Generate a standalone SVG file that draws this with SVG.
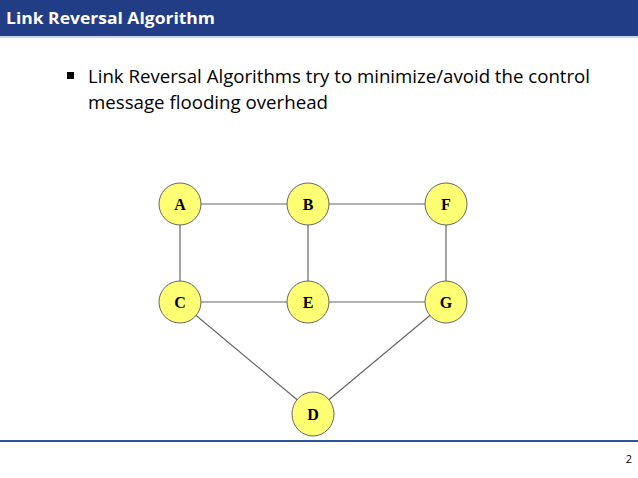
<svg xmlns="http://www.w3.org/2000/svg" width="638" height="478" viewBox="0 0 638 478">
<style>
.n circle,.n ellipse{fill:#ffff73;stroke:#666;stroke-width:1}
.n text{font-family:"Liberation Serif",serif;font-weight:bold;font-size:16px;text-anchor:middle}
#edges line{stroke:#666;stroke-width:1.2}
.t{font-family:"Open Sans","Liberation Sans",sans-serif}
</style>
<rect width="638" height="478" fill="#fff"/>
<rect x="0" y="0" width="638" height="36" fill="#203d85"/>
<rect x="0" y="36" width="638" height="2" fill="#c9d4ea"/>
<text class="t" x="6" y="24" fill="#fff" font-size="16.5" font-weight="bold" textLength="209" lengthAdjust="spacingAndGlyphs">Link Reversal Algorithm</text>
<rect x="67" y="72" width="7" height="7" fill="#000"/>
<text class="t" x="88" y="83" font-size="18.5" textLength="502" lengthAdjust="spacingAndGlyphs">Link Reversal Algorithms try to minimize/avoid the control</text>
<text class="t" x="88" y="109" font-size="18.5" textLength="240" lengthAdjust="spacingAndGlyphs">message flooding overhead</text>
<g id="edges">
<line x1="180" y1="204" x2="308" y2="204"/>
<line x1="308" y1="204" x2="446" y2="204"/>
<line x1="180" y1="204" x2="180" y2="302"/>
<line x1="308" y1="204" x2="308" y2="302"/>
<line x1="446" y1="204" x2="446" y2="302"/>
<line x1="180" y1="302" x2="308" y2="302"/>
<line x1="308" y1="302" x2="446" y2="302"/>
<line x1="180" y1="302" x2="313" y2="413"/>
<line x1="446" y1="302" x2="313" y2="413"/>
</g>
<g id="A" class="n"><circle cx="180" cy="204" r="21"/><text x="180" y="210">A</text></g>
<g id="B" class="n"><circle cx="308" cy="204" r="21"/><text x="308" y="210">B</text></g>
<g id="F" class="n"><circle cx="446" cy="204" r="21"/><text x="446" y="210">F</text></g>
<g id="C" class="n"><circle cx="180" cy="302" r="21"/><text x="180" y="308">C</text></g>
<g id="E" class="n"><circle cx="308" cy="302" r="21"/><text x="308" y="308">E</text></g>
<g id="G" class="n"><circle cx="446" cy="302" r="21"/><text x="446" y="308">G</text></g>
<g id="D" class="n"><ellipse cx="313" cy="414" rx="21" ry="22"/><text x="313" y="420">D</text></g>
<rect x="0" y="440" width="638" height="2" fill="#2f5597"/>
<text class="t" x="632" y="463" font-size="11" text-anchor="end">2</text>
</svg>
